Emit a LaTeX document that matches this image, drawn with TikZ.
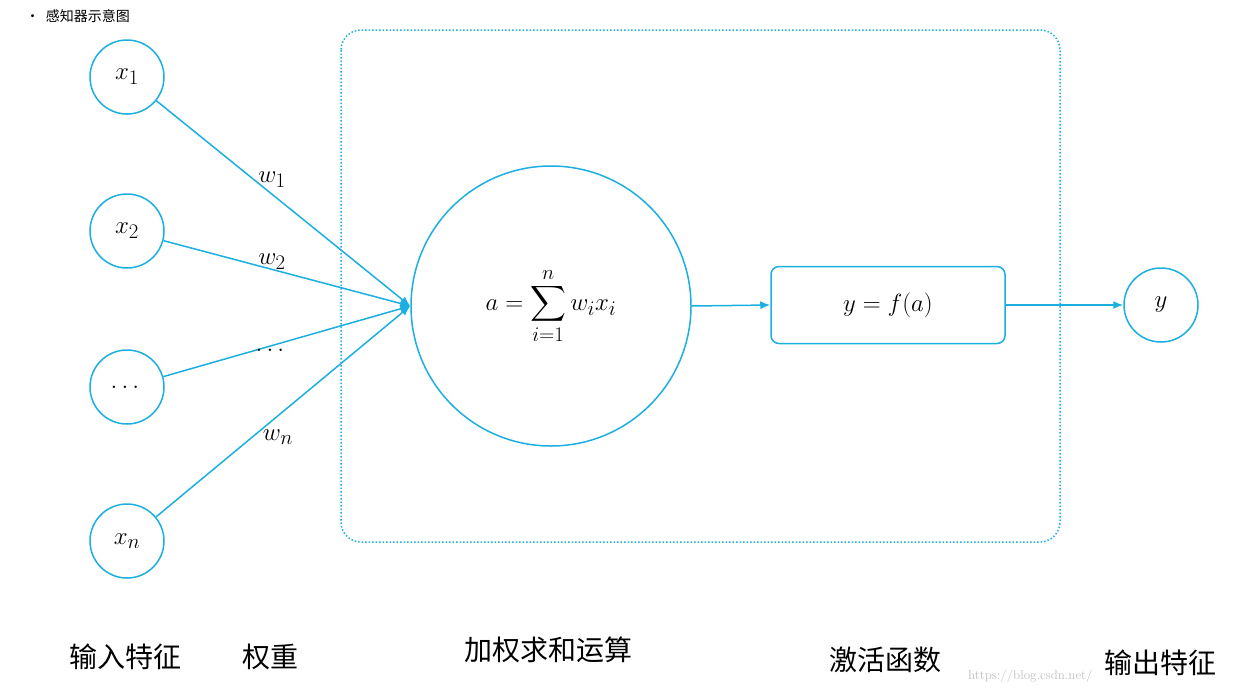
\documentclass[tikz,border=0pt]{standalone}
\usepackage{fontspec}
\usepackage{amsmath}
\newfontfamily\cjk{Noto Sans CJK SC}
\usetikzlibrary{arrows.meta,positioning,calc}
\definecolor{pcpblue}{HTML}{1AAFE0}
\tikzset{
    % input / output circle
    unitnode/.style={
        circle,
        draw=pcpblue,
        line width=1.5pt,
        minimum size=74pt,
        inner sep=0pt,
        font=\fontsize{28}{32}\selectfont
    },
    % activation box
    actbox/.style={
        rectangle,
        rounded corners=8pt,
        draw=pcpblue,
        line width=1.5pt,
        minimum width=234pt,
        minimum height=77pt,
        font=\fontsize{28}{32}\selectfont
    },
    % weight label
    weightlabel/.style={
        font=\fontsize{28}{32}\selectfont,
        inner sep=1pt
    },
    % bottom caption
    captionlabel/.style={
        font=\cjk\fontsize{28}{32}\selectfont
    },
    % arrow style
    pcparrow/.style={
        -{Latex[length=10pt,width=8pt]},
        line width=1.5pt,
        color=pcpblue
    }
}
\begin{document}
\begin{tikzpicture}[x=1pt,y=-1pt]
    \useasboundingbox (0,0) rectangle (1237,694);

    % title line
    \node[font=\cjk\fontsize{14}{16}\selectfont, anchor=west] (title) at (22,16) {\textbullet\ \ 感知器示意图};

    % frame
    \draw[pcpblue, line width=1.5pt, dotted, rounded corners=20pt] (341,30) rectangle (1060,542);

    % inputs
    \node[unitnode] (x1) at (127,77) {$x_1$};
    \node[unitnode] (x2) at (127,231) {$x_2$};
    \node[unitnode] (x3) at (127,387) {$\dots$};
    \node[unitnode] (xn) at (127,541) {$x_n$};

    % summation
    \node[circle, draw=pcpblue, line width=1.5pt, minimum size=280pt, inner sep=0pt, font=\fontsize{28}{32}\selectfont] (sum) at (551,306)
        {$\displaystyle a=\sum_{i=1}^{n} w_i x_i$};
    \coordinate (in) at (sum.west);

    \foreach \src in {x1,x2,x3,xn}
        \draw[pcparrow] (\src) -- (in);

    % weights
    \node[weightlabel] (w1) at (272,180) {$w_1$};
    \node[weightlabel] (w2) at (272,262) {$w_2$};
    \node[weightlabel] (w3) at (272,350) {$\dots$};
    \node[weightlabel] (wn) at (278,437) {$w_n$};

    % activation and output
    \node[actbox] (act) at (888,305) {$y=f(a)$};
    \node[unitnode] (y) at (1161,305) {$y$};
    \draw[pcparrow] (sum.east) -- (act.west);
    \draw[pcparrow] (act.east) -- (y.west);

    % captions
    \node[captionlabel] (c1) at (125,657) {输入特征};
    \node[captionlabel] (c2) at (270,657) {权重};
    \node[captionlabel] (c3) at (548,650) {加权求和运算};
    \node[captionlabel] (c4) at (885,660) {激活函数};
    \node[captionlabel] (c5) at (1160,663) {输出特征};
    \node[font=\fontsize{13}{15}\selectfont, text=black!25, anchor=east] (mark) at (1096,676) {https://blog.csdn.net/};

\end{tikzpicture}
\end{document}
